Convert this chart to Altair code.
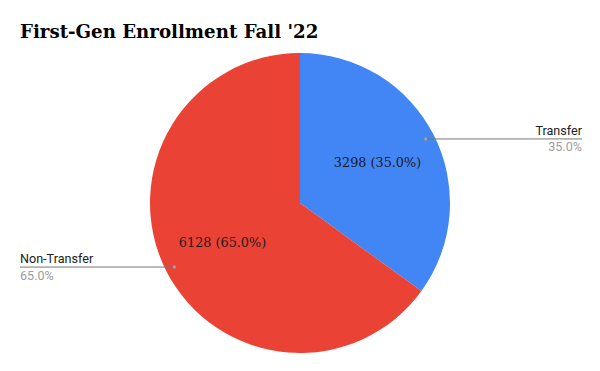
import altair as alt
import pandas as pd

title_text = ["First-Gen Enrollment Fall '22"]
labels = ["Transfer", "Non-Transfer"]
values = [3298, 6128]
order = [1, 2]
colors = ["#4285F4", "#EA4335"]

df = pd.DataFrame({"label": labels, "value": values, "order": order})

CX, CY, R = 300, 203, 150

base = alt.Chart(df).transform_joinaggregate(
    total="sum(value)"
).transform_window(
    cum="sum(value)", sort=[alt.SortField("order")]
).transform_calculate(
    frac="datum.value / datum.total",
    pct="format(datum.value / datum.total * 100, '.1f') + '%'",
    inner="datum.value + ' (' + format(datum.value / datum.total * 100, '.1f') + '%)'",
    mid="(datum.cum - datum.value / 2) / datum.total * 2 * PI",
).transform_calculate(
    px=f"{CX} + 141 * sin(datum.mid)",
    py=f"{CY} - 141 * cos(datum.mid)",
    side="datum.mid < PI ? 'right' : 'left'",
    edge="datum.mid < PI ? 582 : 20",
)

color = alt.Color("label:N", scale=alt.Scale(domain=labels, range=colors), legend=None)

pie = base.mark_arc(outerRadius=R, stroke="#ffffff", strokeWidth=0).encode(
    theta=alt.Theta("value:Q", stack=True),
    order=alt.Order("order:Q"),
    color=color,
    x=alt.value(CX),
    y=alt.value(CY),
)

inner = base.mark_text(radius=87, font="DejaVu Serif", fontSize=12.8, color="#1a1a1a").encode(
    theta=alt.Theta("value:Q", stack=True),
    order=alt.Order("order:Q"),
    text="inner:N",
    x=alt.value(CX),
    y=alt.value(CY),
)

lines = base.mark_rule(color="#777777", strokeWidth=1).encode(
    x=alt.X("px:Q", scale=None),
    x2="edge:Q",
    y=alt.Y("py:Q", scale=None),
)

dots = base.mark_circle(size=12, color="#9e9e9e", opacity=1).encode(
    x=alt.X("px:Q", scale=None),
    y=alt.Y("py:Q", scale=None),
)

def side_labels(side, align):
    b = base.transform_filter(f"datum.side == '{side}'")
    name = b.transform_calculate(ty="datum.py - 4").mark_text(
        align=align, baseline="alphabetic", font="Roboto", fontSize=12.6, color="#222222"
    ).encode(x=alt.X("edge:Q", scale=None), y=alt.Y("ty:Q", scale=None), text="label:N")
    pct = b.transform_calculate(ty="datum.py + 12.5").mark_text(
        align=align, baseline="alphabetic", font="Roboto", fontSize=12.6, color="#9e9e9e"
    ).encode(x=alt.X("edge:Q", scale=None), y=alt.Y("ty:Q", scale=None), text="pct:N")
    return name + pct

title = alt.Chart(pd.DataFrame({"t": title_text})).mark_text(
    align="left", baseline="alphabetic", font="DejaVu Serif", fontWeight="bold",
    fontSize=18.2, color="#000000"
).encode(x=alt.value(20), y=alt.value(38), text="t:N")

chart = alt.layer(
    pie, inner, lines, dots, side_labels("right", "right"), side_labels("left", "left"), title
).properties(
    width=600, height=371, padding=0,
    autosize=alt.AutoSizeParams(type="none"),
    background="#ffffff",
).configure_view(stroke=None)

chart.save("out.html", embed_options={"renderer": "svg", "actions": False})
